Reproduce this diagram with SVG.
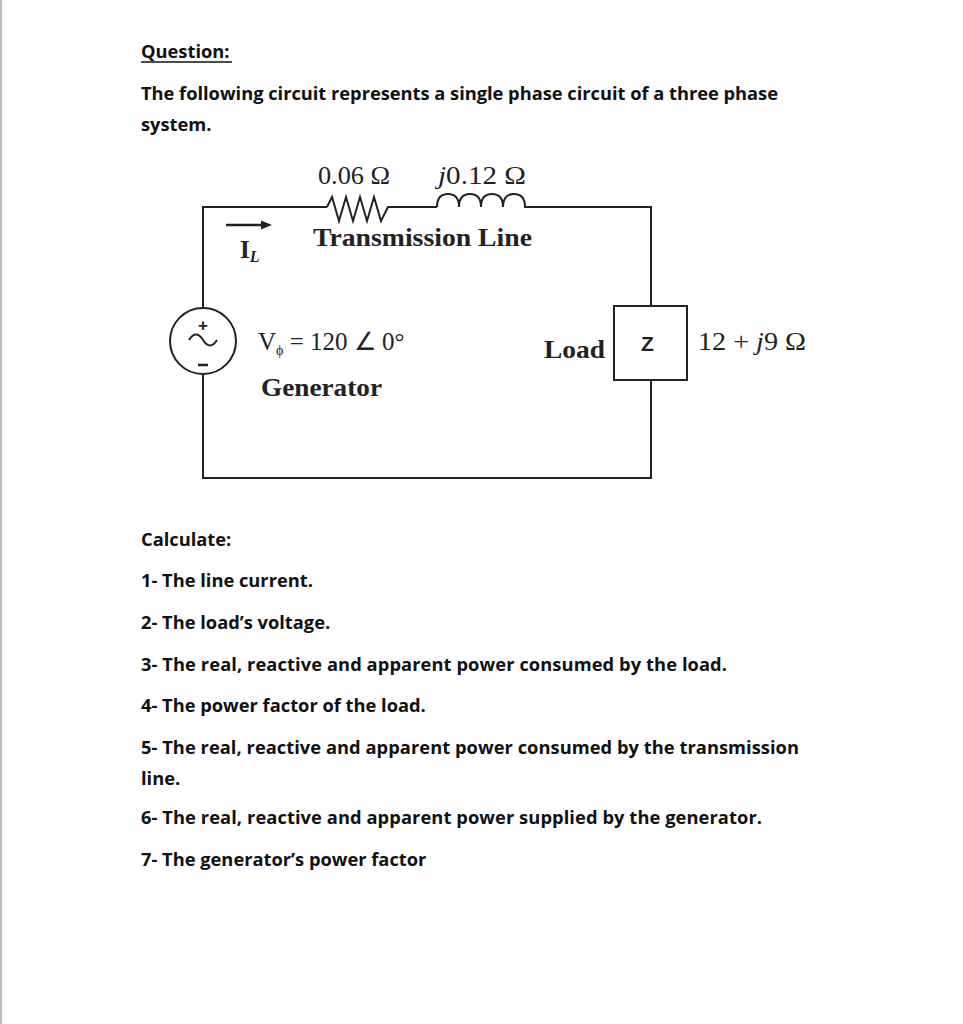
<svg xmlns="http://www.w3.org/2000/svg" width="963" height="1024" viewBox="0 0 963 1024">
<style>
.t{font-family:"Open Sans","Liberation Sans",sans-serif;font-weight:bold;font-size:18.3px;fill:#111}
.c{font-family:"Liberation Serif",serif;font-weight:bold;font-size:25px;fill:#222}
.w{fill:none;stroke:#222;stroke-width:2}
</style>
<rect width="963" height="1024" fill="#fff"/>
<line x1="1" y1="0" x2="1" y2="1024" stroke="#bbb" stroke-width="2"/>
<text class="t" x="141" y="58">Question:</text>
<line x1="141" y1="62" x2="232" y2="62" stroke="#111" stroke-width="1.5"/>
<text class="t" x="141" y="100" textLength="637">The following circuit represents a single phase circuit of a three phase</text>
<text class="t" x="141" y="131">system.</text>
<g id="connectors">
<path class="w" d="M203,309 V207 H327 M392,207 H437 M528,207 H651 V305 M651,380 V478 H203 V373"/>
</g>
<g id="resistor">
<path class="w" d="M327,207 L332,197 L339,221 L346,197 L353,221 L360,197 L367,221 L374,197 L381,221 L388,207 L392,207"/>
<text class="c" x="318" y="184" style="font-weight:normal" textLength="72" lengthAdjust="spacingAndGlyphs">0.06 Ω</text>
</g>
<g id="inductor">
<path class="w" d="M437,207 q0,-13 11,-13 q11,0 11,13 q0,-13 11,-13 q11,0 11,13 q0,-13 11,-13 q11,0 11,13 q0,-13 11,-13 q11,0 11,13 h3"/>
<text class="c" x="438" y="184" style="font-weight:normal" textLength="88" lengthAdjust="spacingAndGlyphs"><tspan font-style="italic">j</tspan>0.12 Ω</text>
<text class="c" x="313" y="246" textLength="219" lengthAdjust="spacingAndGlyphs">Transmission Line</text>
</g>
<g id="current">
<line x1="226" y1="225" x2="265" y2="225" stroke="#222" stroke-width="2.5"/>
<polygon points="272,225 261,220.5 261,229.5" fill="#222"/>
<text class="c" x="240" y="258">I<tspan font-style="italic" font-size="16" dy="4">L</tspan></text>
</g>
<g id="generator">
<circle class="w" cx="203" cy="341" r="33" stroke-width="3"/>
<path class="w" d="M189,340 q7,-11 14,0 q7,11 14,0" stroke-width="2.5"/>
<text x="203" y="331" text-anchor="middle" font-family="Liberation Sans,sans-serif" font-weight="bold" font-size="17" fill="#222">+</text>
<line x1="198" y1="365" x2="208" y2="365" stroke="#222" stroke-width="2.5"/>
<text class="c" x="258" y="350" style="font-weight:normal">V<tspan font-size="14" dy="5">ϕ</tspan><tspan dy="-5"> = 120 ∠ 0°</tspan></text>
<text class="c" x="261" y="396" textLength="121" lengthAdjust="spacingAndGlyphs">Generator</text>
</g>
<g id="load">
<rect class="w" x="614" y="306" width="73" height="74" stroke-width="3"/>
<text x="641" y="351" font-family="Liberation Sans,sans-serif" font-weight="bold" font-size="21" fill="#222">Z</text>
<text class="c" x="544" y="358" textLength="61" lengthAdjust="spacingAndGlyphs">Load</text>
<text class="c" x="698" y="350" style="font-weight:normal" textLength="108" lengthAdjust="spacingAndGlyphs">12 + <tspan font-style="italic">j</tspan>9 Ω</text>
</g>
<text class="t" x="141" y="546">Calculate:</text>
<text class="t" x="141" y="587">1- The line current.</text>
<text class="t" x="141" y="629">2- The load’s voltage.</text>
<text class="t" x="141" y="671" textLength="586">3- The real, reactive and apparent power consumed by the load.</text>
<text class="t" x="141" y="712">4- The power factor of the load.</text>
<text class="t" x="141" y="754" textLength="658">5- The real, reactive and apparent power consumed by the transmission</text>
<text class="t" x="141" y="785">line.</text>
<text class="t" x="141" y="824" textLength="621">6- The real, reactive and apparent power supplied by the generator.</text>
<text class="t" x="141" y="866">7- The generator’s power factor</text>
</svg>
